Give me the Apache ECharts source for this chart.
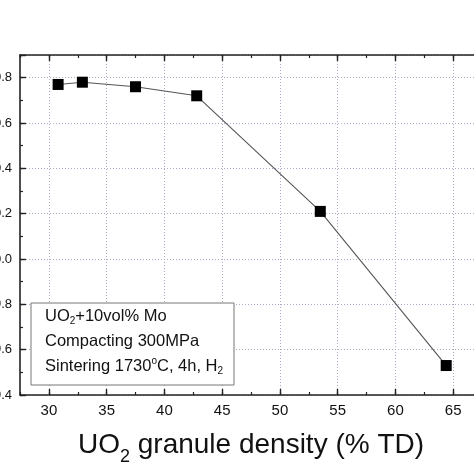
<!DOCTYPE html>
<html>
<head>
<meta charset="utf-8">
<script src="https://cdn.jsdelivr.net/npm/echarts@6/dist/echarts.min.js"></script>
<style>
  html, body { margin: 0; padding: 0; background: #fff; }
  #chart { width: 474px; height: 474px; }
</style>
</head>
<body>
<div id="chart"></div>
<script>
// granule density (% TD) -> sintered density
const granuleDensity = [30.8, 32.9, 37.5, 42.8, 53.5, 64.4];
const sinteredDensity = [10.77, 10.78, 10.76, 10.72, 10.21, 9.53];
const xTickValues = [30, 35, 40, 45, 50, 55, 60, 65];
const noteLines = [
  '{a|UO}{s|2}{a|+10vol% Mo}',
  '{a|Compacting 300MPa}',
  '{a|Sintering 1730}{p|o}{a|C, 4h, H}{s|2}'
];

const font = 'Liberation Sans, Arial, sans-serif';
const axisColor = '#222';
const gridLine = { show: true, lineStyle: { color: '#a9aec8', width: 1, type: [1, 2] } };

let myChart = echarts.init(document.getElementById('chart'));

const minorX = (pos) => ({
  type: 'value', position: pos, min: 27.5, max: 67.5, interval: 2.5,
  axisLine: { show: false },
  axisTick: { show: true, inside: true, length: 3, lineStyle: { color: axisColor, width: 1.2 } },
  axisLabel: { show: false },
  splitLine: { show: false }
});

let option = {
  animation: false,
  backgroundColor: '#fff',
  grid: { left: 20, right: -8, top: 55, bottom: 79, containLabel: false, outerBoundsMode: 'none' },
  xAxis: [
    {
      type: 'value', position: 'bottom', min: 27.5, max: 67.5,
      name: '{a|UO}{s|2}{a| granule density (% TD)}',
      nameLocation: 'middle', nameGap: 33,
      nameTextStyle: {
        fontFamily: font, color: '#111',
        rich: {
          a: { fontSize: 28, lineHeight: 34, fontFamily: font, color: '#111' },
          s: { fontSize: 18, lineHeight: 20, padding: [24, 0, 0, 0], fontFamily: font, color: '#111' }
        }
      },
      axisLine: { show: true, onZero: false, lineStyle: { color: axisColor, width: 1.6 } },
      axisTick: { show: true, inside: true, length: 6, customValues: xTickValues, lineStyle: { color: axisColor, width: 1.4 } },
      axisLabel: { show: true, customValues: xTickValues, margin: 8, fontSize: 15, fontFamily: font, color: '#111' },
      splitLine: gridLine
    },
    {
      type: 'value', position: 'top', min: 27.5, max: 67.5,
      axisLine: { show: true, onZero: false, lineStyle: { color: axisColor, width: 1.6 } },
      axisTick: { show: true, inside: true, length: 6, customValues: xTickValues, lineStyle: { color: axisColor, width: 1.4 } },
      axisLabel: { show: false },
      splitLine: { show: false }
    },
    minorX('bottom'),
    minorX('top')
  ],
  yAxis: [
    {
      type: 'value', position: 'left', min: 9.4, max: 10.9, interval: 0.2,
      axisLine: { show: true, onZero: false, lineStyle: { color: axisColor, width: 1.6 } },
      axisTick: { show: true, inside: true, length: 6, lineStyle: { color: axisColor, width: 1.4 } },
      axisLabel: {
        margin: 8, fontSize: 13, fontFamily: font, color: '#111',
        formatter: v => (v > 10.85 ? '' : v.toFixed(1))
      },
      splitLine: gridLine
    },
    {
      type: 'value', position: 'left', min: 9.4, max: 10.9, interval: 0.1,
      axisLine: { show: false },
      axisTick: { show: true, inside: true, length: 3, lineStyle: { color: axisColor, width: 1.2 } },
      axisLabel: { show: false },
      splitLine: { show: false }
    }
  ],
  graphic: [
    {
      type: 'rect', x: 31, y: 303, z: 100,
      shape: { width: 203, height: 82 },
      style: { fill: '#fff', stroke: '#777', lineWidth: 1 }
    },
    {
      type: 'text', x: 45, y: 304, z: 101,
      style: {
        text: noteLines.join('\n'),
        verticalAlign: 'top',
        fill: '#111',
        rich: {
          a: { fontSize: 16.5, lineHeight: 25, fontFamily: font, fill: '#111' },
          s: { fontSize: 10, lineHeight: 15, padding: [10, 0, 0, 0], fontFamily: font, fill: '#111' },
          p: { fontSize: 10, lineHeight: 15, padding: [0, 0, 10, 0], fontFamily: font, fill: '#111' }
        }
      }
    }
  ],
  series: [
    {
      type: 'line',
      xAxisIndex: 0, yAxisIndex: 0,
      data: granuleDensity.map((x, i) => [x, sinteredDensity[i]]),
      symbol: 'rect', symbolSize: 11,
      itemStyle: { color: '#000' },
      lineStyle: { color: '#555', width: 1.1 },
      z: 5
    }
  ]
};
myChart.setOption(option);
</script>
</body>
</html>
